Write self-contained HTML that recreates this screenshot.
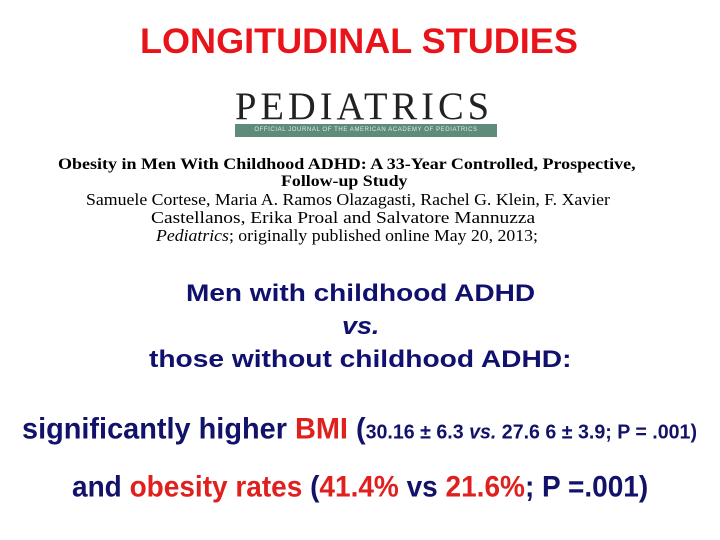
<!DOCTYPE html>
<html><head><meta charset="utf-8"><style>
body{margin:0;width:720px;height:540px;background:#fff;position:relative;overflow:hidden;font-family:"Liberation Sans",sans-serif}
.l{position:absolute;white-space:nowrap;transform-origin:0 0;line-height:1}
.serif{font-family:"Liberation Serif",serif}
.r{color:#e0201e}.n{color:#12126a}
</style></head><body>
<div class="l" data-x="140" data-y="23" data-w="438" data-sy="1.08" style="color:#e8141a;font-weight:bold;font-size:33px">LONGITUDINAL STUDIES</div>
<div class="l serif" data-x="235" data-y="87" data-w="258" style="font-size:39px;letter-spacing:4px;color:#222">PEDIATRICS</div>
<div style="position:absolute;left:235px;top:124px;width:262px;height:13px;background:#5f8c7a;color:#dfe9e4;font-size:6px;line-height:13px;text-align:center;letter-spacing:0.6px">OFFICIAL JOURNAL OF THE AMERICAN ACADEMY OF PEDIATRICS</div>
<div class="l serif" data-x="58" data-y="157" data-w="578" style="font-weight:bold;font-size:16px">Obesity in Men With Childhood ADHD: A 33-Year Controlled, Prospective,</div>
<div class="l serif" data-x="281" data-y="174" data-w="126" style="font-weight:bold;font-size:16px">Follow-up Study</div>
<div class="l serif" data-x="86" data-y="191" data-w="524" style="font-size:17px">Samuele Cortese, Maria A. Ramos Olazagasti, Rachel G. Klein, F. Xavier</div>
<div class="l serif" data-x="151" data-y="209" data-w="384" style="font-size:17px">Castellanos, Erika Proal and Salvatore Mannuzza</div>
<div class="l serif" data-x="156" data-y="227" data-w="382" style="font-size:17px"><i>Pediatrics</i>; originally published online May 20, 2013;</div>
<div class="l" data-x="186" data-y="282" data-w="349" style="font-size:24px;font-weight:bold;color:#10106e">Men with childhood ADHD</div>
<div class="l" data-x="342" data-y="315" data-w="37" style="font-size:24px;font-weight:bold;color:#10106e"><i>vs.</i></div>
<div class="l" data-x="149" data-y="348" data-w="422" style="font-size:24px;font-weight:bold;color:#10106e">those without childhood ADHD:</div>
<div class="l n" data-x="22" data-y="414" data-w="675" data-sy="1.06" style="font-size:28px;font-weight:bold">significantly higher <span class="r">BMI</span> (<span style="font-size:19px">30.16 ± 6.3 <i>vs.</i> 27.6 6 ± 3.9; P = .001)</span></div>
<div class="l n" data-x="72" data-y="472" data-w="576" data-sy="1.06" style="font-size:28px;font-weight:bold">and <span class="r">obesity rates</span> (<span class="r">41.4%</span> vs <span class="r">21.6%</span>; P =.001)</div>
<script>
document.querySelectorAll('.l').forEach(function(e){
  var w=+e.dataset.w;
  var sx=w/e.scrollWidth;
  var sy=+(e.dataset.sy||1);
  e.style.left=e.dataset.x+'px';
  e.style.top=e.dataset.y+'px';
  e.style.transform='scale('+sx+','+sy+')';
});
</script>
</body></html>
